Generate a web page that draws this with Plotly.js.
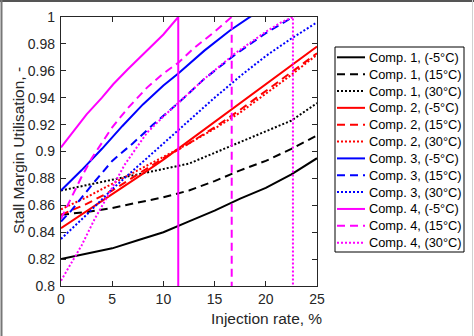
<!DOCTYPE html>
<html>
<head>
<meta charset="utf-8">
<script src="https://cdn.plot.ly/plotly-3.0.1.min.js"></script>
<style>
  html, body { margin: 0; padding: 0; background: #fff; }
  #chart { width: 474px; height: 336px; }
</style>
</head>
<body>
<div id="chart"></div>
<script>
// ---- data ----
const xGrid = [0, 2.5, 5, 7.5, 10, 12.5, 15, 17.5, 20, 22.5, 25];

const comp1_m5 = [0.820, 0.824, 0.828, 0.834, 0.840, 0.848, 0.856, 0.865, 0.873, 0.883, 0.895];
const comp1_15 = [0.853, 0.855, 0.858, 0.862, 0.866, 0.871, 0.878, 0.886, 0.893, 0.902, 0.912];
const comp1_30 = [0.871, 0.875, 0.879, 0.883, 0.887, 0.891, 0.899, 0.907, 0.915, 0.923, 0.936];

const comp2_m5 = [0.843, 0.8555, 0.868, 0.881, 0.894, 0.908, 0.922, 0.936, 0.950, 0.964, 0.978];
const comp2_15 = [0.853, 0.861, 0.871, 0.883, 0.895, 0.906, 0.918, 0.931, 0.945, 0.959, 0.973];
const comp2_30 = [0.857, 0.866, 0.876, 0.886, 0.896, 0.906, 0.917, 0.929, 0.943, 0.957, 0.972];

const comp3_m5_x = [0, 2, 4, 6, 8, 10, 11.45, 14, 16.5, 18.5, 20];
const comp3_m5   = [0.871, 0.886, 0.902, 0.919, 0.935, 0.949, 0.958, 0.975, 0.990, 1.0, 1.008];
const comp3_15_x = [0, 1, 3, 5, 7, 9, 11.45, 14, 17, 20, 22.65, 25];
const comp3_15   = [0.848, 0.856, 0.875, 0.893, 0.906, 0.920, 0.936, 0.954, 0.972, 0.988, 1.0, 1.01];
const comp3_30   = [0.835, 0.853, 0.872, 0.889, 0.906, 0.923, 0.940, 0.956, 0.971, 0.984, 0.996];

// Comp. 4 curves end at the stall limit (1.0) and drop vertically
const comp4_m5_x = [0, 1, 2.5, 4, 5.1, 6.5, 8.4, 10, 11.45, 11.45];
const comp4_m5   = [0.903, 0.913, 0.9276, 0.940, 0.950, 0.961, 0.975, 0.987, 1.0, 0.8];
const comp4_15_x = [0, 1, 2, 3, 4, 5, 6.5, 8.4, 10, 11.45, 13, 15, 16.67, 16.67];
const comp4_15   = [0.850, 0.866, 0.881, 0.895, 0.907, 0.918, 0.932, 0.9475, 0.958, 0.966, 0.977, 0.989, 1.0, 0.8];
const comp4_30_x = [0, 2, 3.3, 4.5, 6.2, 8.4, 10, 11.45, 14, 17, 20, 21.5, 22.65, 22.65];
const comp4_30   = [0.804, 0.830, 0.850, 0.866, 0.890, 0.914, 0.926, 0.936, 0.954, 0.973, 0.989, 0.996, 1.0, 0.8];

const seriesNames = [
  'Comp. 1, (-5°C)', 'Comp. 1, (15°C)', 'Comp. 1, (30°C)',
  'Comp. 2, (-5°C)', 'Comp. 2, (15°C)', 'Comp. 2, (30°C)',
  'Comp. 3, (-5°C)', 'Comp. 3, (15°C)', 'Comp. 3, (30°C)',
  'Comp. 4, (-5°C)', 'Comp. 4, (15°C)', 'Comp. 4, (30°C)'
];
const seriesX = [xGrid, xGrid, xGrid, xGrid, xGrid, xGrid,
  comp3_m5_x, comp3_15_x, xGrid, comp4_m5_x, comp4_15_x, comp4_30_x];
const seriesY = [comp1_m5, comp1_15, comp1_30, comp2_m5, comp2_15, comp2_30,
  comp3_m5, comp3_15, comp3_30, comp4_m5, comp4_15, comp4_30];

const yTickVals = [0.8, 0.82, 0.84, 0.86, 0.88, 0.9, 0.92, 0.94, 0.96, 0.98, 1];
const yTickText = ['0.8', '0.82', '0.84', '0.86', '0.88', '0.9', '0.92', '0.94', '0.96', '0.98', '1'];
const xTickVals = [0, 5, 10, 15, 20, 25];

// ---- styles ----
const colorsByComp = ['#000000', '#ff0000', '#0000ff', '#ff00ff'];
const dashByTemp = ['solid', '8px,5px', '2px,2px'];
const FONT = 'Liberation Sans, Arial, sans-serif';
const AXC = '#262626';

const traces = seriesNames.map((name, i) => ({
  type: 'scatter', mode: 'lines', name: name,
  x: seriesX[i], y: seriesY[i],
  line: { color: colorsByComp[Math.floor(i / 3)], width: 2, dash: dashByTemp[i % 3] },
  showlegend: false, hoverinfo: 'skip'
}));

// plot area in pixels
const L = 61, R = 317, T = 17, B = 286;
const W = 474, H = 336;
const px2x = p => (p - L) / (R - L);
const px2y = p => (B - p) / (B - T);

const shapes = [];
const annotations = [];

// manual legend (built from the series names / styles)
shapes.push({ type: 'rect', xref: 'paper', yref: 'paper',
  x0: px2x(335), x1: px2x(464), y0: px2y(47), y1: px2y(252),
  line: { color: '#000', width: 1 }, fillcolor: '#fff', layer: 'below' });
seriesNames.forEach((name, i) => {
  const yc = 57.3 + 16.85 * i;
  shapes.push({ type: 'line', xref: 'paper', yref: 'paper',
    x0: px2x(337), x1: px2x(365), y0: px2y(yc), y1: px2y(yc),
    line: { color: colorsByComp[Math.floor(i / 3)], width: 2, dash: dashByTemp[i % 3] } });
  annotations.push({ xref: 'paper', yref: 'paper', x: px2x(366.5), y: px2y(yc),
    xanchor: 'left', yanchor: 'middle', showarrow: false, text: name,
    font: { family: FONT, size: 12.8, color: '#000' } });
});

// axis titles
annotations.push({ xref: 'paper', yref: 'paper', x: px2x(266), y: px2y(318),
  xanchor: 'center', yanchor: 'middle', showarrow: false, text: 'Injection rate, %',
  font: { family: FONT, size: 15.5, color: AXC } });
annotations.push({ xref: 'paper', yref: 'paper', x: px2x(18), y: px2y(151),
  xanchor: 'center', yanchor: 'middle', showarrow: false, textangle: -90,
  text: 'Stall Margin Utilisation, -',
  font: { family: FONT, size: 15.5, color: AXC } });

// image frame
shapes.push({ type: 'line', xref: 'paper', yref: 'paper',
  x0: px2x(0), x1: px2x(W), y0: px2y(1), y1: px2y(1), line: { color: '#555', width: 2 } });
shapes.push({ type: 'line', xref: 'paper', yref: 'paper',
  x0: px2x(1.5), x1: px2x(1.5), y0: px2y(0), y1: px2y(H), line: { color: '#777', width: 2 } });
shapes.push({ type: 'line', xref: 'paper', yref: 'paper',
  x0: px2x(472.5), x1: px2x(472.5), y0: px2y(0), y1: px2y(H), line: { color: '#d0d0d0', width: 1 } });

const axisCommon = {
  showgrid: false, zeroline: false,
  showline: true, linecolor: AXC, linewidth: 1.2, mirror: 'ticks',
  ticks: 'inside', ticklen: 5, tickwidth: 1, tickcolor: AXC,
  tickfont: { family: FONT, size: 14, color: AXC },
  fixedrange: true
};

const layout = {
  width: W, height: H,
  margin: { l: L, r: W - R, t: T, b: H - B, pad: 0 },
  paper_bgcolor: '#fff', plot_bgcolor: '#fff',
  showlegend: false,
  xaxis: Object.assign({}, axisCommon, {
    range: [0, 25], tickmode: 'array', tickvals: xTickVals,
    ticklabelstandoff: 0
  }),
  yaxis: Object.assign({}, axisCommon, {
    range: [0.8, 1.0], tickmode: 'array', tickvals: yTickVals, ticktext: yTickText,
    ticklabelstandoff: 2
  }),
  shapes: shapes,
  annotations: annotations
};

Plotly.newPlot('chart', traces, layout, { staticPlot: true, displayModeBar: false });
</script>
</body>
</html>
